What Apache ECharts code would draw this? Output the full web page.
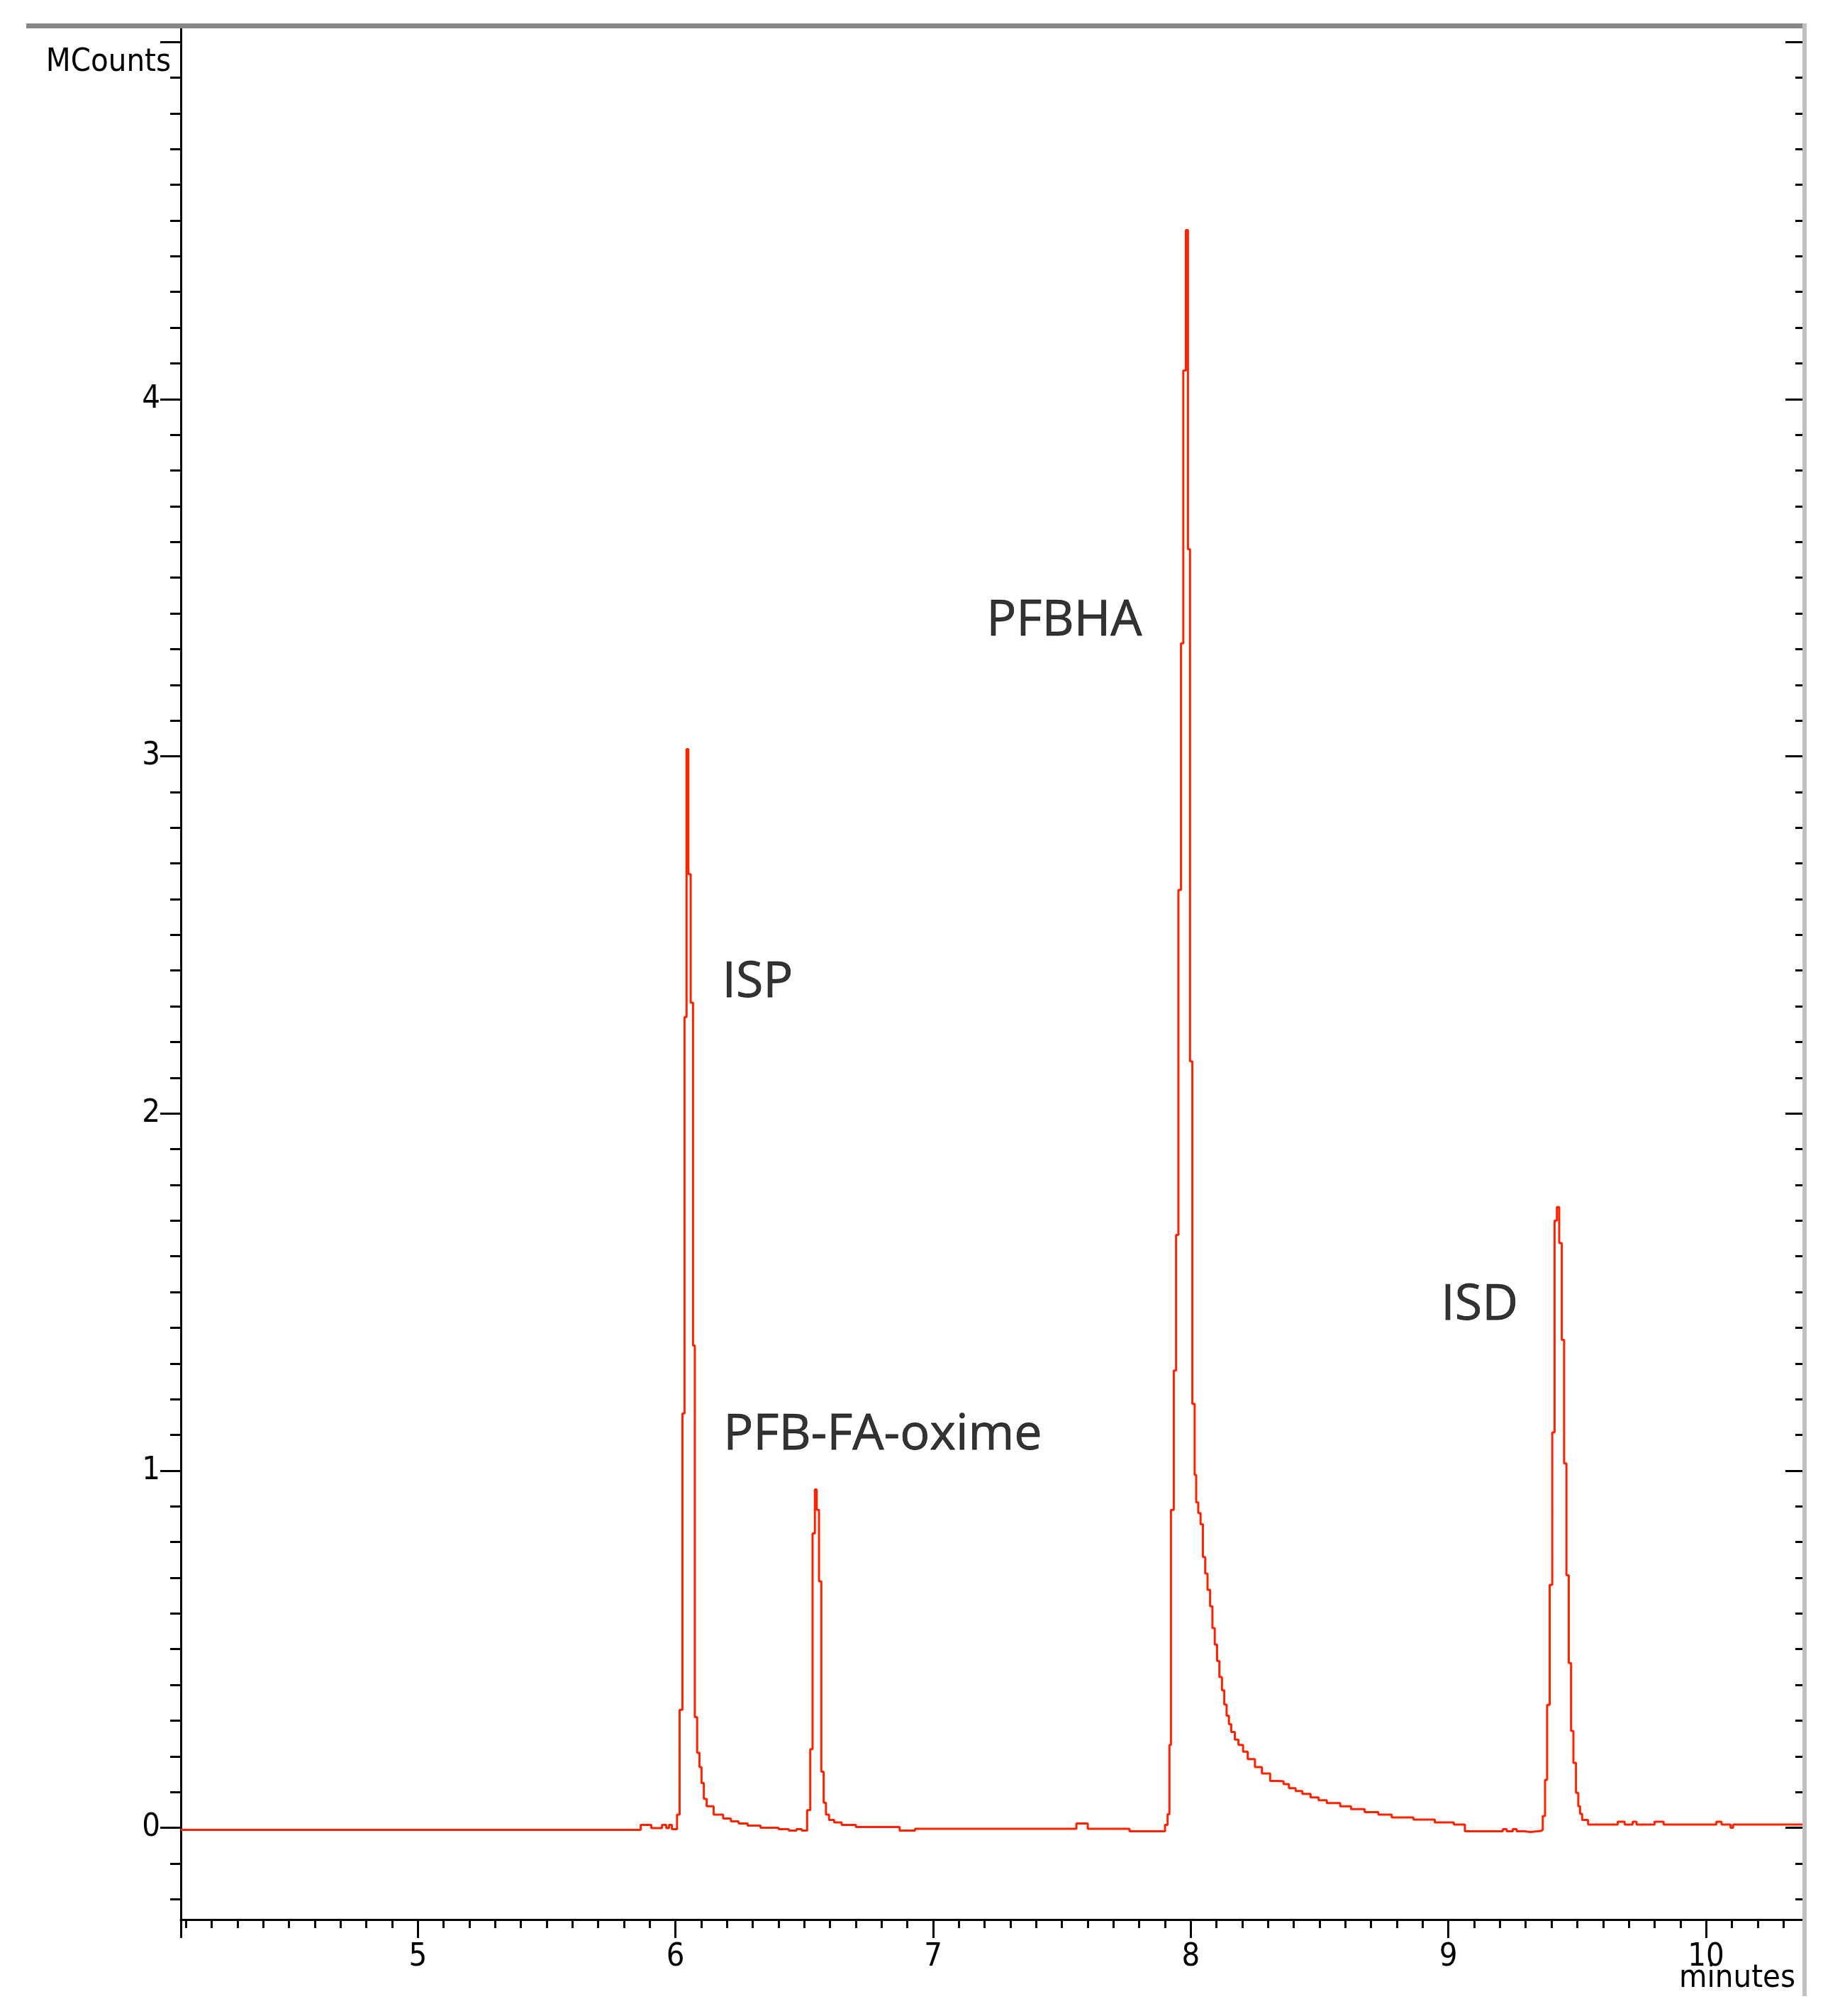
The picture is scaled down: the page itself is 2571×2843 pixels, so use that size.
<!DOCTYPE html>
<html>
<head>
<meta charset="utf-8">
<script src="https://cdn.jsdelivr.net/npm/echarts@6/dist/echarts.min.js"></script>
<style>
html,body{margin:0;padding:0;background:#fff;}
#chart{width:2571px;height:2843px;}
</style>
</head>
<body>
<div id="chart"></div>
<script>
// ---- data ----
const times = [
  4.080, 5.865, 5.906, 5.948, 5.964, 5.975, 5.986,
  6.006, 6.016, 6.027, 6.035, 6.043, 6.050, 6.059, 6.068, 6.075, 6.084, 6.093, 6.101, 6.110, 6.121,
  6.148, 6.185, 6.215, 6.245, 6.280, 6.330, 6.400, 6.440, 6.470, 6.490,
  6.511, 6.523, 6.532, 6.541, 6.548, 6.557, 6.566, 6.575, 6.584, 6.596, 6.616, 6.645, 6.700, 6.870, 6.930,
  7.556, 7.600, 7.762,
  7.900, 7.910, 7.917, 7.923, 7.934, 7.943, 7.952, 7.962, 7.971, 7.981, 7.989, 7.997, 8.006, 8.015, 8.021,
  8.029, 8.038, 8.047, 8.056, 8.065, 8.075, 8.084, 8.093, 8.102, 8.111, 8.121, 8.130, 8.139, 8.148, 8.157,
  8.171, 8.185, 8.203, 8.221, 8.249, 8.276, 8.308, 8.338, 8.360, 8.381, 8.407, 8.433, 8.465, 8.496, 8.528,
  8.580, 8.622, 8.675, 8.728, 8.780, 8.864, 8.947, 9.021, 9.064, 9.211, 9.226, 9.250, 9.265, 9.295, 9.318, 9.359,
  9.366, 9.375, 9.383, 9.393, 9.403, 9.412, 9.421, 9.430, 9.440, 9.449, 9.458, 9.467, 9.476, 9.485, 9.495,
  9.504, 9.511, 9.519, 9.542, 9.657, 9.684, 9.715, 9.730, 9.800, 9.835, 10.040, 10.060, 10.095, 10.105, 10.374
];
const counts = [
  -0.006, 0.008, -0.001, 0.008, -0.001, 0.008, -0.004,
  0.037, 0.33, 1.16, 2.27, 3.02, 2.67, 2.31, 1.35, 0.31, 0.21, 0.17, 0.125, 0.081, 0.06,
  0.037, 0.026, 0.018, 0.012, 0.006, 0.000, -0.004, -0.008, -0.004, -0.008,
  0.049, 0.22, 0.824, 0.947, 0.89, 0.69, 0.157, 0.07, 0.037, 0.022, 0.015, 0.008, 0.002, -0.008, -0.003,
  0.012, -0.003, -0.010,
  0.008, 0.038, 0.232, 0.89, 1.28, 1.66, 2.626, 3.316, 4.08, 4.473, 3.58, 2.146, 1.187, 0.988, 0.911,
  0.881, 0.85, 0.758, 0.712, 0.666, 0.62, 0.559, 0.513, 0.467, 0.422, 0.385, 0.345, 0.314, 0.29, 0.268,
  0.247, 0.232, 0.213, 0.192, 0.17, 0.152, 0.131, 0.13, 0.122, 0.111, 0.103, 0.095, 0.085, 0.077, 0.069,
  0.06, 0.052, 0.044, 0.037, 0.029, 0.023, 0.015, 0.009, -0.010, -0.004, -0.010, -0.004, -0.010, -0.012, -0.009, -0.006,
  0.033, 0.134, 0.344, 0.68, 1.107, 1.70, 1.738, 1.637, 1.366, 1.02, 0.707, 0.461, 0.271, 0.182, 0.098,
  0.06, 0.039, 0.022, 0.009, 0.017, 0.009, 0.017, 0.009, 0.017, 0.009, 0.017, 0.009, 0.000, 0.009, 0.009
];

// peak annotations
const peakNames = ['ISP', 'PFB-FA-oxime', 'PFBHA', 'ISD'];
const peakLabelX = [6.181, 6.186, 7.207, 8.971];
const peakLabelY = [2.366, 1.099, 3.378, 1.462];

// axis ticks / labels
const xMin = 4.08, xMax = 10.374;
const yMin = -0.257, yMax = 5.046;
const xTickLabels = [5, 6, 7, 8, 9, 10];
const yTickLabels = [0, 1, 2, 3, 4];
const yMajorTicks = [0, 1, 2, 3, 4, 5];
const xAxisTitle = 'minutes';
const yAxisTitle = 'MCounts';

const xMinorTicks = [];
for (let k = 41; k <= 103; k++) { if (k % 10 !== 0) xMinorTicks.push(k / 10); }
const yMinorTicks = [];
for (let k = -2; k <= 50; k++) { if (k % 10 !== 0) yMinorTicks.push(k / 10); }

const seriesData = times.map((t, i) => [t, counts[i]]);
const labelData = peakNames.map((n, i) => [peakLabelX[i], peakLabelY[i], n]);

// ---- layout ----
const W = 2571, H = 2843;
const gLeft = 255, gRight = 2542, gTop = 36, gBottom = 2707;
const axisFont = "'Liberation Sans Narrow', 'DejaVu Sans Condensed', sans-serif";
const annoFont = "'Open Sans', 'Noto Sans', sans-serif";
const axisFontSize = 45;

const chart = echarts.init(document.getElementById('chart'), null, {renderer: 'canvas'});

const baseY = {type: 'value', min: yMin, max: yMax, splitLine: {show: false}, gridIndex: 0};
const baseX = {type: 'value', min: xMin, max: xMax, splitLine: {show: false}, gridIndex: 0};

chart.setOption({
  animation: false,
  backgroundColor: '#ffffff',
  grid: {left: gLeft, right: W - gRight, top: gTop, bottom: H - gBottom, containLabel: false, outerBoundsMode: 'none'},
  xAxis: [
    Object.assign({}, baseX, {
      position: 'bottom',
      axisLine: {show: true, onZero: false, lineStyle: {color: '#000', width: 3}},
      axisTick: {show: true, customValues: [xMin].concat(xTickLabels), length: 26, lineStyle: {color: '#000', width: 3}},
      axisLabel: {show: true, customValues: xTickLabels, margin: 31, color: '#000', fontSize: axisFontSize, fontFamily: axisFont}
    }),
    Object.assign({}, baseX, {
      position: 'bottom',
      axisLine: {show: false, onZero: false},
      axisTick: {show: true, customValues: xMinorTicks, length: 12, lineStyle: {color: '#000', width: 3}},
      axisLabel: {show: false}
    })
  ],
  yAxis: [
    Object.assign({}, baseY, {
      position: 'left',
      axisLine: {show: true, onZero: false, lineStyle: {color: '#000', width: 3}},
      axisTick: {show: true, customValues: yMajorTicks, length: 29, lineStyle: {color: '#000', width: 3}},
      axisLabel: {show: true, customValues: yTickLabels, margin: 29, color: '#000', fontSize: axisFontSize, fontFamily: axisFont}
    }),
    Object.assign({}, baseY, {
      position: 'left',
      axisLine: {show: false, onZero: false},
      axisTick: {show: true, customValues: yMinorTicks, length: 15, lineStyle: {color: '#000', width: 3}},
      axisLabel: {show: false}
    }),
    Object.assign({}, baseY, {
      position: 'right',
      axisLine: {show: false, onZero: false},
      axisTick: {show: true, inside: true, customValues: yMajorTicks, length: 24, lineStyle: {color: '#000', width: 3}},
      axisLabel: {show: false}
    }),
    Object.assign({}, baseY, {
      position: 'right',
      axisLine: {show: false, onZero: false},
      axisTick: {show: true, inside: true, customValues: yMinorTicks, length: 10, lineStyle: {color: '#000', width: 3}},
      axisLabel: {show: false}
    })
  ],
  series: [
    {
      type: 'line',
      name: 'TIC',
      xAxisIndex: 0, yAxisIndex: 0,
      data: seriesData,
      step: 'end',
      showSymbol: false,
      symbol: 'none',
      lineStyle: {color: '#ff2200', width: 3},
      silent: true,
      z: 3
    },
    {
      type: 'scatter',
      name: 'labels',
      xAxisIndex: 0, yAxisIndex: 0,
      data: labelData,
      symbolSize: 0,
      silent: true,
      label: {
        show: true,
        position: 'right',
        distance: 0,
        formatter: p => p.data[2],
        color: '#000',
        fontSize: 70,
        fontFamily: annoFont,
        textBorderColor: '#000',
        textBorderWidth: 0.8
      }
    }
  ],
  graphic: [
    {type: 'rect', z: 100, shape: {x: 37, y: 33, width: gRight - 37, height: 7}, style: {fill: '#888888'}, silent: true},
    {type: 'rect', z: 100, shape: {x: gRight, y: 33, width: 6, height: 2815 - 33}, style: {fill: '#c0c0c0'}, silent: true},
    {type: 'text', z: 100, x: 241, y: 88, style: {text: yAxisTitle, fill: '#000', font: axisFontSize + "px " + axisFont, textAlign: 'right', textVerticalAlign: 'middle'}, silent: true},
    {type: 'text', z: 100, x: 2532, y: 2790, style: {text: xAxisTitle, fill: '#000', font: axisFontSize + "px " + axisFont, textAlign: 'right', textVerticalAlign: 'middle'}, silent: true}
  ]
});
</script>
</body>
</html>
